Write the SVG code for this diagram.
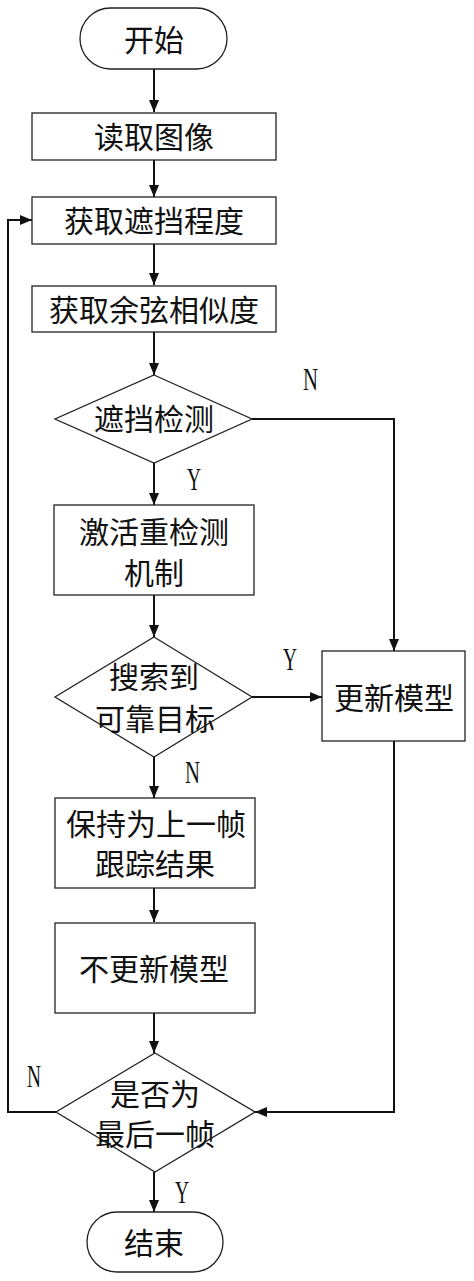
<svg xmlns="http://www.w3.org/2000/svg" width="474" height="1281" viewBox="0 0 474 1281">
<style>
.shape{fill:#fff;stroke:#222;stroke-width:1.3}
.t{font-family:"Noto Sans CJK SC","Noto Sans",sans-serif;font-size:30px;fill:#111;text-anchor:middle;dominant-baseline:central}
.lbl{font-family:"Liberation Serif",serif;font-size:32px;fill:#111}
.c{fill:none;stroke:#111;stroke-width:2}
</style>
<defs>
<marker id="ah" viewBox="0 0 12 10" refX="12" refY="5" markerWidth="12" markerHeight="10" markerUnits="userSpaceOnUse" orient="auto">
<path d="M0,0 L12,5 L0,10 Z" fill="#111"/>
</marker>
</defs>
<rect width="474" height="1281" fill="#fff"/>
<g id="connectors">
<path class="c" d="M154,69 V112" marker-end="url(#ah)"/>
<path class="c" d="M154,160 V197" marker-end="url(#ah)"/>
<path class="c" d="M154,244 V285" marker-end="url(#ah)"/>
<path class="c" d="M154,332 V375" marker-end="url(#ah)"/>
<path class="c" d="M252,419 H394 V651" marker-end="url(#ah)"/>
<path class="c" d="M154,463 V505" marker-end="url(#ah)"/>
<path class="c" d="M154,595 V637" marker-end="url(#ah)"/>
<path class="c" d="M252,697 H322" marker-end="url(#ah)"/>
<path class="c" d="M154,757 V798" marker-end="url(#ah)"/>
<path class="c" d="M154,888 V922" marker-end="url(#ah)"/>
<path class="c" d="M154,1013 V1053" marker-end="url(#ah)"/>
<path class="c" d="M394,741 V1112 H255" marker-end="url(#ah)"/>
<path class="c" d="M56,1112 H8 V220 H32" marker-end="url(#ah)"/>
<path class="c" d="M154,1172 V1212" marker-end="url(#ah)"/>
<text class="lbl" x="303" y="390" textLength="15" lengthAdjust="spacingAndGlyphs">N</text>
<text class="lbl" x="187" y="490" textLength="14" lengthAdjust="spacingAndGlyphs">Y</text>
<text class="lbl" x="283" y="670" textLength="14" lengthAdjust="spacingAndGlyphs">Y</text>
<text class="lbl" x="185" y="783" textLength="15" lengthAdjust="spacingAndGlyphs">N</text>
<text class="lbl" x="27" y="1087" textLength="14" lengthAdjust="spacingAndGlyphs">N</text>
<text class="lbl" x="175" y="1203" textLength="14" lengthAdjust="spacingAndGlyphs">Y</text>
</g>
<g id="start">
<rect class="shape" x="80" y="8" width="147" height="61" rx="30.5"/>
<text class="t" x="154" y="38">开始</text>
</g>
<g id="read">
<rect class="shape" x="32" y="113" width="244" height="47"/>
<text class="t" x="154" y="135">读取图像</text>
</g>
<g id="occl">
<rect class="shape" x="32" y="197" width="244" height="47"/>
<text class="t" x="154" y="219">获取遮挡程度</text>
</g>
<g id="cos">
<rect class="shape" x="32" y="286" width="244" height="46"/>
<text class="t" x="154" y="308">获取余弦相似度</text>
</g>
<g id="detect">
<polygon class="shape" points="154,375 252,419 154,463 55,419"/>
<text class="t" x="154" y="417">遮挡检测</text>
</g>
<g id="redetect">
<rect class="shape" x="54" y="505" width="200" height="90"/>
<text class="t" x="154" y="530">激活重检测</text>
<text class="t" x="154" y="571">机制</text>
</g>
<g id="search">
<polygon class="shape" points="154,637 252,697 154,757 55,697"/>
<text class="t" x="154" y="675">搜索到</text>
<text class="t" x="155" y="717">可靠目标</text>
</g>
<g id="update">
<rect class="shape" x="322" y="651" width="143" height="90"/>
<text class="t" x="394" y="696">更新模型</text>
</g>
<g id="keep">
<rect class="shape" x="55" y="798" width="200" height="90"/>
<text class="t" x="156" y="822">保持为上一帧</text>
<text class="t" x="155" y="862">跟踪结果</text>
</g>
<g id="noupdate">
<rect class="shape" x="55" y="923" width="200" height="90"/>
<text class="t" x="154" y="967">不更新模型</text>
</g>
<g id="last">
<polygon class="shape" points="155,1053 255,1112 155,1172 56,1112"/>
<text class="t" x="155" y="1092">是否为</text>
<text class="t" x="155" y="1132">最后一帧</text>
</g>
<g id="end">
<rect class="shape" x="87" y="1212" width="136" height="60" rx="30"/>
<text class="t" x="154" y="1241">结束</text>
</g>
</svg>
